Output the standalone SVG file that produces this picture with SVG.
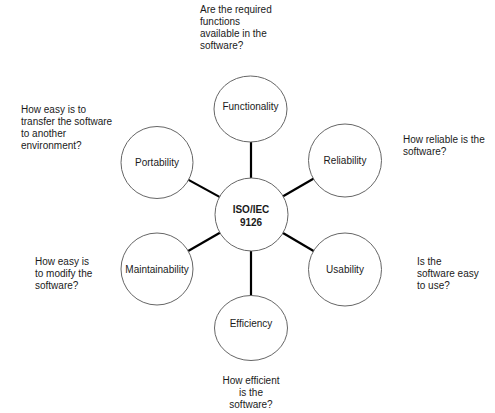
<svg xmlns="http://www.w3.org/2000/svg" width="495" height="413" viewBox="0 0 495 413">
<style>
text{font-family:"Liberation Sans",Arial,sans-serif;font-size:10px;fill:#1a1a1a}
.node{fill:#fff;stroke:#666;stroke-width:1}
.lbl{text-anchor:middle}
.bold{font-weight:bold}
.conn line{stroke:#000;stroke-width:2.2}
</style>
<rect width="495" height="413" fill="#fff"/>
<g id="connectors" class="conn">
<line x1="251" y1="142" x2="251" y2="178"/>
<line x1="251" y1="251" x2="251" y2="296"/>
<line x1="219.5" y1="196.9" x2="188.5" y2="179.9"/>
<line x1="219.9" y1="232.7" x2="188.2" y2="251"/>
<line x1="283.1" y1="196.2" x2="313.8" y2="178.5"/>
<line x1="283" y1="233" x2="314" y2="251.2"/>
</g>
<g id="iso">
<circle class="node" cx="251.5" cy="214.5" r="36.5"/>
<text class="lbl bold" x="251" y="213">ISO/IEC</text>
<text class="lbl bold" x="251" y="225.5">9126</text>
</g>
<g id="functionality">
<ellipse class="node" cx="250.5" cy="109" rx="36.5" ry="33"/>
<text class="lbl" x="250.5" y="110">Functionality</text>
<text x="200" y="13">Are the required</text>
<text x="200" y="25">functions</text>
<text x="200" y="37">available in the</text>
<text x="200" y="49">software?</text>
</g>
<g id="reliability">
<circle class="node" cx="345" cy="160.5" r="36.5"/>
<text class="lbl" x="345" y="164">Reliability</text>
<text x="403" y="143">How reliable is the</text>
<text x="403" y="155">software?</text>
</g>
<g id="usability">
<circle class="node" cx="345" cy="269.5" r="36.5"/>
<text class="lbl" x="345" y="273">Usability</text>
<text x="417" y="265">Is the</text>
<text x="417" y="277">software easy</text>
<text x="417" y="289">to use?</text>
</g>
<g id="efficiency">
<ellipse class="node" cx="251" cy="328" rx="36.5" ry="32.5"/>
<text class="lbl" x="251" y="327">Efficiency</text>
<text class="lbl" x="251" y="384">How efficient</text>
<text class="lbl" x="251" y="396">is the</text>
<text class="lbl" x="251" y="408">software?</text>
</g>
<g id="maintainability">
<circle class="node" cx="157" cy="269" r="36"/>
<text class="lbl" x="157" y="272.5">Maintainability</text>
<text x="35" y="265">How easy is</text>
<text x="35" y="277">to modify the</text>
<text x="35" y="289">software?</text>
</g>
<g id="portability">
<circle class="node" cx="157" cy="162.5" r="36"/>
<text class="lbl" x="157" y="165.5">Portability</text>
<text x="21" y="113">How easy is to</text>
<text x="21" y="125">transfer the software</text>
<text x="21" y="137">to another</text>
<text x="21" y="149">environment?</text>
</g>
</svg>
